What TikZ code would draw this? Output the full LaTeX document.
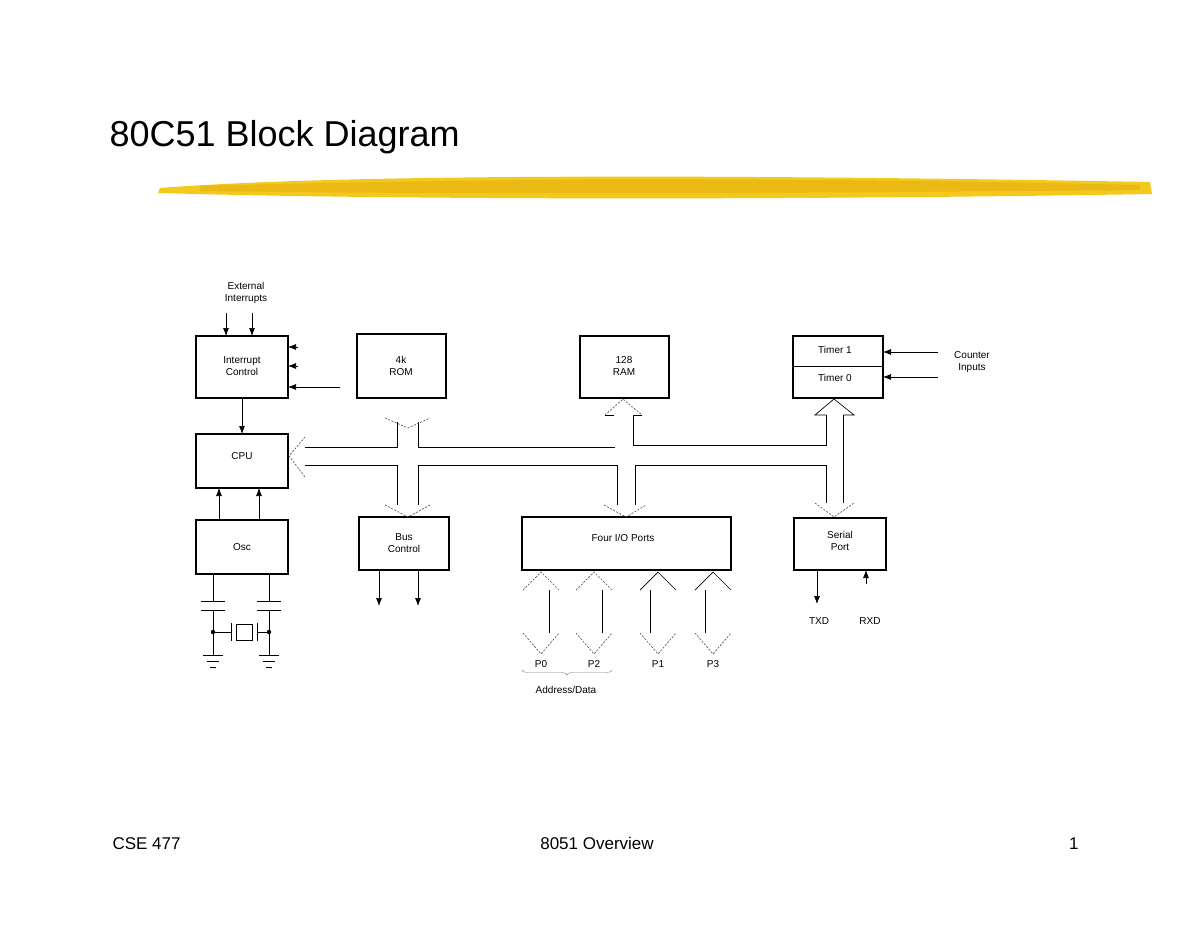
\documentclass[tikz,border=0pt]{standalone}
\usepackage{fontspec}
\setmainfont{Liberation Sans}
\usetikzlibrary{arrows.meta,decorations.pathreplacing}
\definecolor{brush}{RGB}{245,200,30}
\definecolor{brushd}{RGB}{235,185,20}
\begin{document}
\begin{tikzpicture}[x=1pt,y=-1pt,
  box/.style={draw,line width=1.2pt},
  lbl/.style={font=\fontsize{10}{12}\selectfont,align=center},
  arr/.style={line width=0.7pt,-{Latex[length=8pt,width=6pt]}},
  pipe/.style={line width=0.7pt},
  hd/.style={line width=0.7pt,dash pattern=on 2pt off 1.5pt,black!65},
  hs/.style={line width=0.7pt}]
\useasboundingbox (0,0) rectangle (1200,927);
% title
\node[anchor=base west,font=\fontsize{36}{42}\selectfont] (title) at (106,146) {80C51 Block Diagram};
\fill[brush] (160,188) .. controls (300,177) and (600,172) .. (1150,182) -- (1152,194) .. controls (800,200) and (400,200) .. (158,193) -- cycle;
\fill[brushd] (200,186) .. controls (500,178) and (800,177) .. (1140,185) -- (1140,190) .. controls (800,193) and (500,195) .. (200,191) -- cycle;
% footer
\node[anchor=base west,font=\fontsize{17}{20}\selectfont] (f1) at (109,849) {CSE 477};
\node[anchor=base,font=\fontsize{17}{20}\selectfont] (f2) at (597,849) {8051 Overview};
\node[anchor=base east,font=\fontsize{17}{20}\selectfont] (f3) at (1082,849) {1};
% boxes
\draw[box] (196,336) rectangle (288,398);
\node[lbl] (ic) at (242,366) {Interrupt\\Control};
\draw[box] (357,334) rectangle (446,398);
\node[lbl] (rom) at (401,366) {4k\\ROM};
\draw[box] (580,336) rectangle (669,398);
\node[lbl] (ram) at (624,366) {128\\RAM};
\draw[box] (793,336) rectangle (883,398);
\draw[line width=0.6pt] (793,366) -- (883,366);
\node[lbl] (t1) at (835,350) {Timer 1};
\node[lbl] (t0) at (835,378) {Timer 0};
\draw[box] (196,434) rectangle (288,488);
\node[lbl] (cpu) at (242,456) {CPU};
\draw[box] (196,520) rectangle (288,574);
\node[lbl] (osc) at (242,547) {Osc};
\draw[box] (359,517) rectangle (449,570);
\node[lbl] (bus) at (404,543) {Bus\\Control};
\draw[box] (522,517) rectangle (731,570);
\node[lbl] (ports) at (623,538) {Four I/O Ports};
\draw[box] (794,518) rectangle (886,570);
\node[lbl] (ser) at (840,541) {Serial\\Port};
% interrupts
\node[lbl] (ext) at (246,293) {External\\Interrupts};
\draw[arr] (226,313) -- (226,336);
\draw[arr] (252,313) -- (252,336);
\draw[arr] (298,347) -- (288,347);
\draw[arr] (298,366) -- (288,366);
\draw[arr] (340,387) -- (288,387);
\draw[arr] (242,398) -- (242,434);
\draw[arr] (219,520) -- (219,488);
\draw[arr] (259,520) -- (259,488);
% oscillator circuit
\foreach \x in {213,269}{
  \draw[line width=0.6pt] (\x,574) -- (\x,601) (\x-12,601) -- (\x+12,601) (\x-12,610) -- (\x+12,610) (\x,610) -- (\x,655);
  \fill (\x,632) circle (2.2pt);
  \draw[line width=0.6pt] (\x-10,655) -- (\x+10,655) (\x-6,661) -- (\x+6,661) (\x-3,667) -- (\x+3,667);
}
\draw[line width=0.6pt] (213,632) -- (231,632) (231,623) -- (231,641) (257,623) -- (257,641) (257,632) -- (269,632);
\draw[line width=0.8pt] (236,624) rectangle (252,640);
% bus pipes
\draw[pipe] (305,447) -- (397,447) -- (397,422);
\draw[pipe] (418,422) -- (418,447) -- (615,447);
\draw[pipe] (305,465) -- (397,465) -- (397,505);
\draw[pipe] (418,505) -- (418,465) -- (617,465) -- (617,505);
\draw[pipe] (635,505) -- (635,465) -- (826,465) -- (826,503);
\draw[pipe] (633,415) -- (633,445) -- (826,445) -- (826,415);
\draw[pipe] (843,415) -- (843,503);
% arrow heads
\draw[hd] (305,437) -- (289,456) -- (305,477);
\draw[hd] (385,418) -- (408,428) -- (430,418);
\draw[hd] (385,505) -- (408,517) -- (430,505);
\draw[hd] (604,505) -- (626,517) -- (646,505);
\draw[hd] (605,415) -- (623,399) -- (642,415);
\draw[hs] (605,415) -- (614,415) (633,415) -- (642,415);
\draw[hs] (843,415) -- (854,415) -- (834,399) -- (815,415) -- (826,415);
\draw[hd] (815,503) -- (834,517) -- (854,503);
% port pipes
\foreach \c/\n/\t in {541/p0/P0,594/p2/P2}{
  \draw[hd] (\c-18,590) -- (\c,572) -- (\c+18,590);
  \draw[pipe] (\c+8,590) -- (\c+8,633);
  \draw[hd] (\c-18,633) -- (\c,654) -- (\c+18,633);
  \node[lbl,anchor=base] (\n) at (\c,667) {\t};
}
\foreach \c/\n/\t in {658/p1/P1,713/p3/P3}{
  \draw[hs] (\c-18,590) -- (\c,572) -- (\c+18,590);
  \draw[pipe] (\c-8,590) -- (\c-8,633);
  \draw[hd] (\c-18,633) -- (\c,654) -- (\c+18,633);
  \node[lbl,anchor=base] (\n) at (\c,667) {\t};
}
\draw[line width=0.4pt,gray,decorate,decoration={brace,mirror,amplitude=5pt}] (522,670) -- (612,670);
\node[lbl] (ad) at (566,690) {Address/Data};
% bus control outputs
\draw[arr] (379,570) -- (379,606);
\draw[arr] (418,570) -- (418,606);
% serial
\draw[arr] (817,570) -- (817,604);
\draw[arr] (866,584) -- (866,570);
\node[lbl] (txd) at (819,621) {TXD};
\node[lbl] (rxd) at (870,621) {RXD};
% counter inputs
\draw[arr] (938,352) -- (883,352);
\draw[arr] (938,377) -- (883,377);
\node[lbl] (ci) at (972,362) {Counter\\Inputs};
\end{tikzpicture}
\end{document}
